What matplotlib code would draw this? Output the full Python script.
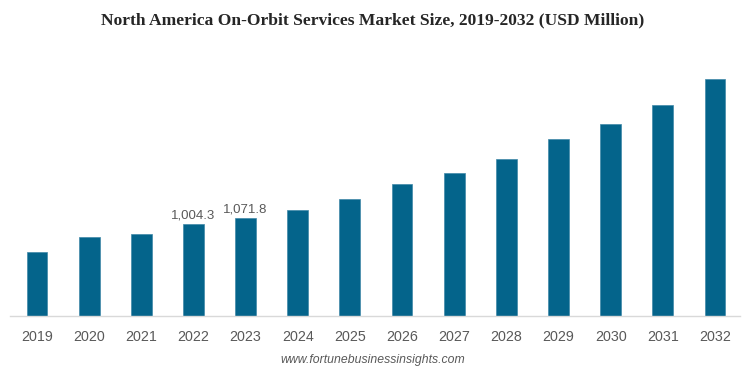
import matplotlib.pyplot as plt
import numpy as np

years = ['2019', '2020', '2021', '2022', '2023', '2024', '2025',
         '2026', '2027', '2028', '2029', '2030', '2031', '2032']
values = [701, 862, 895, 1004.3, 1071.8, 1162, 1279,
          1443, 1567, 1724, 1936, 2104, 2313, 2594]
labels = {3: '1,004.3', 4: '1,071.8'}

bar_color = '#04648b'
text_color = '#595959'

fig = plt.figure(figsize=(7.45, 3.72), dpi=100)
ax = fig.add_axes([10 / 745, 1 - 316 / 372, 730 / 745, 256 / 372])

x = np.arange(len(years))
ax.bar(x, values, width=0.4, color=bar_color, edgecolor='#3f88a8', linewidth=0.5)

for i, txt in labels.items():
    ax.text(x[i], values[i] + 35, txt, ha='center', va='bottom',
            fontsize=9.5, color=text_color, family='Liberation Sans')

ax.set_xlim(-0.518, 13.48)
ax.set_ylim(0, 2806)
ax.set_xticks(x)
ax.set_xticklabels(years, fontsize=10.3, color=text_color, family='Liberation Sans')
ax.tick_params(axis='x', length=0, pad=10)
ax.set_yticks([])
for s in ['top', 'right', 'left']:
    ax.spines[s].set_visible(False)
ax.spines['bottom'].set_color('#d9d9d9')
ax.spines['bottom'].set_linewidth(1)

fig.text(0.5, 1 - 20 / 372, 'North America On-Orbit Services Market Size, 2019-2032 (USD Million)',
         ha='center', va='center', fontsize=12.6, fontweight='bold',
         family='Liberation Serif', color='#262626')
fig.text(0.5, 1 - 360 / 372, 'www.fortunebusinessinsights.com', ha='center', va='center',
         fontsize=8.8, style='italic', color=text_color, family='Liberation Sans')

fig.savefig('out.png', dpi=100)
